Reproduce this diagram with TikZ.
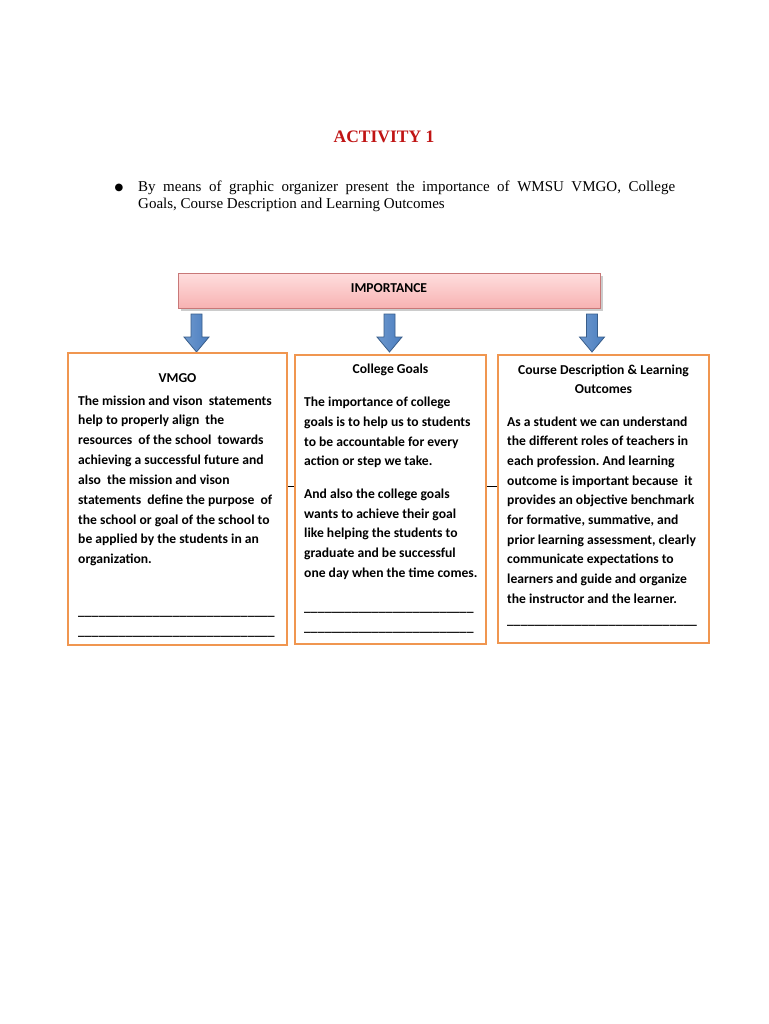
\documentclass[tikz,border=0pt]{standalone}
\usepackage{fontspec}
\setmainfont{Liberation Serif}
\newfontfamily\calfont{Carlito}
\newfontfamily\symfont{DejaVu Sans}
\definecolor{titlered}{RGB}{192,20,20}
\definecolor{boxorange}{RGB}{240,150,80}
\definecolor{arrowblue}{RGB}{74,126,192}
\definecolor{arrowedge}{RGB}{56,93,138}
\definecolor{pinktop}{RGB}{255,222,222}
\definecolor{pinkbot}{RGB}{247,178,178}
\definecolor{pinkedge}{RGB}{200,120,120}
\newcommand{\unds}[1]{\foreach \n in {1,...,#1}{\_}}
\frenchspacing
\begin{document}
\begin{tikzpicture}[x=1pt,y=-1pt,
  obox/.style={draw=boxorange, line width=2pt, rectangle, inner sep=0pt},
  btxt/.style={anchor=base west, inner sep=0pt, font=\calfont\bfseries\fontsize{13.6}{16}\selectfont},
  bhead/.style={anchor=base, inner sep=0pt, font=\calfont\bfseries\fontsize{13.6}{16}\selectfont},
  ptxt/.style={anchor=base west, inner sep=0pt, font=\fontsize{15}{17}\selectfont},
  barrow/.style={left color=arrowblue!80!white, right color=arrowblue, draw=arrowedge, line width=0.8pt}
]
\useasboundingbox[fill=white] (0,0) rectangle (768,1024);

% title
\node[anchor=base, inner sep=0pt, text=titlered, font=\bfseries\fontsize{17.5}{20}\selectfont] (title) at (384,143) {ACTIVITY 1};

% bullet text
\node[anchor=center, inner sep=0pt, font=\symfont\fontsize{10}{12}\selectfont] (bullet) at (119,188) {●};
\node[ptxt] (p1) at (138,192) {\makebox[537pt][s]{By means of graphic organizer present the importance of WMSU VMGO, College}};
\node[ptxt] (p2) at (138,209) {Goals, Course Description and Learning Outcomes};

% importance box
\fill[gray!40] (181,276) rectangle (602.5,310.5);
\node[rectangle, draw=pinkedge, line width=0.8pt, top color=pinktop, bottom color=pinkbot,
      minimum width=422pt, minimum height=35pt, inner sep=0pt] (imp) at (389,290.5) {};
\node[bhead] (impt) at (389,292) {IMPORTANCE};

% arrows
\foreach \cx [count=\i] in {196.5,389.5,592}{
  \draw[barrow] (\cx-5.5,314) -- (\cx+5.5,314) -- (\cx+5.5,337) -- (\cx+12.5,337)
     -- (\cx,352) -- (\cx-12.5,337) -- (\cx-5.5,337) -- cycle;
}

% boxes
\node[obox, minimum width=219pt, minimum height=292pt] (b1) at (177.5,499) {};
\node[obox, minimum width=191pt, minimum height=289pt] (b2) at (390.5,499.5) {};
\node[obox, minimum width=211pt, minimum height=288pt] (b3) at (603.5,499) {};

\coordinate (cy) at (0,486);
\draw[black, line width=0.8pt] (b1.east |- cy) -- (b2.west |- cy);
\draw[black, line width=0.8pt] (b2.east |- cy) -- (b3.west |- cy);

% box 1 text
\node[bhead] (h1) at (177.5,382) {VMGO};
\foreach \t [count=\k from 0] in {
  {The mission and vison\ \ statements},
  {help to properly align\ \ the},
  {resources\ \ of the school\ \ towards},
  {achieving a successful future and},
  {also\ \ the mission and vison},
  {statements\ \ define the purpose\ \ of},
  {the school or goal of the school to},
  {be applied by the students in an},
  {organization.}}{
  \node[btxt] (v\k) at (78,405+19.85*\k) {\t};
}
\node[btxt] (u1a) at (78,615) {\unds{29}};
\node[btxt] (u1b) at (78,635) {\unds{29}};

% box 2 text
\node[bhead] (h2) at (390.5,373) {College Goals};
\foreach \t/\yy [count=\k] in {
  {The importance of college}/406.5,
  {goals is to help us to students}/426,
  {to be accountable for every}/446,
  {action or step we take.}/465.5,
  {And also the college goals}/498,
  {wants to achieve their goal}/518,
  {like helping the students to}/537.5,
  {graduate and be successful}/557,
  {one day when the time comes.}/577}{
  \node[btxt] (c\k) at (304,\yy) {\t};
}
\node[btxt] (u2a) at (304,611) {\unds{25}};
\node[btxt] (u2b) at (304,631) {\unds{25}};

% box 3 text
\node[bhead] (h3a) at (603.5,374) {Course Description \& Learning};
\node[bhead] (h3b) at (603.5,393) {Outcomes};
\foreach \t [count=\k from 0] in {
  {As a student we can understand},
  {the different roles of teachers in},
  {each profession. And learning},
  {outcome is important because\ \ it},
  {provides an objective benchmark},
  {for formative, summative, and},
  {prior learning assessment, clearly},
  {communicate expectations to},
  {learners and guide and organize},
  {the instructor and the learner.}}{
  \node[btxt] (d\k) at (507,426+19.7*\k) {\t};
}
\node[btxt] (u3) at (507,624) {\unds{28}};
\end{tikzpicture}
\end{document}
